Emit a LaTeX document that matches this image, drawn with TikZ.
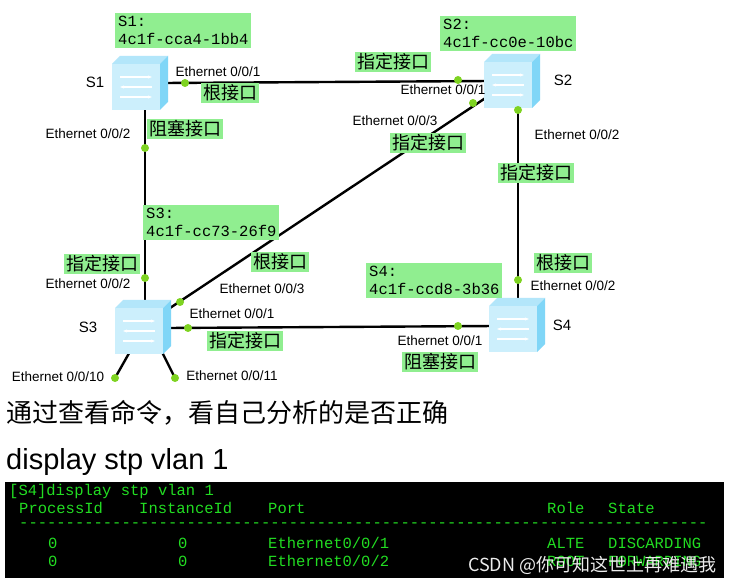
\documentclass[tikz,border=0pt]{standalone}
\usepackage{fontspec}
\setmainfont{Liberation Sans}
\newfontfamily\cjk{Noto Sans CJK SC}
\newfontfamily\mono{Liberation Mono}
\usetikzlibrary{arrows.meta}
\definecolor{lbl}{HTML}{90EE90}
\definecolor{dotg}{HTML}{7ED321}
\definecolor{term}{HTML}{22DD22}
\tikzset{
 eth/.style={font=\fontsize{13.5}{14}\selectfont,inner sep=0pt},
 cn/.style={fill=lbl,font=\cjk\fontsize{18}{19}\selectfont,inner sep=2pt},
 mac/.style={fill=lbl,font=\mono\fontsize{15.5}{18}\selectfont,align=left,inner sep=3pt,anchor=north west},
 nm/.style={font=\fontsize{15}{16}\selectfont},
 lnk/.style={line width=2.4pt},
 dot/.style={circle,fill=dotg,inner sep=0pt,minimum size=8pt},
 tt/.style={font=\mono\fontsize{15.5}{16}\selectfont,text=term,anchor=west,inner sep=0pt},
}
\newcommand{\swicon}[2]{%
 \begin{scope}[shift={#1}]
  \fill[cyan!30] (-28,-18) -- (-20,-26) -- (28,-26) -- (20,-18) -- cycle;
  \fill[cyan!50] (20,-18) -- (28,-26) -- (28,20) -- (20,28) -- cycle;
  \fill[cyan!20] (-28,-18) rectangle (20,28);
  \draw[white,line width=1.4pt,-{Stealth[length=4pt]}] (-20,-5) -- (12,-5);
  \draw[white,line width=1.4pt,-{Stealth[length=4pt]}] (12,5) -- (-20,5);
  \draw[white,line width=1.4pt,-{Stealth[length=4pt]}] (-20,15) -- (12,15);
 \end{scope}
 \coordinate (#2) at #1;}
\begin{document}
\begin{tikzpicture}[x=1pt,y=-1pt]
\useasboundingbox (0,0) rectangle (755,585);
\fill[white] (0,0) rectangle (755,585);
\coordinate (d1) at (185,83); \coordinate (d2) at (458,80);
\coordinate (d3) at (145,148); \coordinate (d4) at (145,278);
\coordinate (d5) at (518,110); \coordinate (d6) at (518,280);
\coordinate (d7) at (473,103); \coordinate (d8) at (180,302);
\coordinate (d9) at (188,328); \coordinate (d10) at (458,326);
\coordinate (d11) at (115,378); \coordinate (d12) at (175,378);
\draw[lnk] (165,83) -- (490,81);
\draw[lnk] (145,105) -- (145,305);
\draw[lnk] (518,100) -- (518,305);
\draw[lnk] (490,95) -- (170,308);
\draw[lnk] (168,328) -- (495,326);
\draw[lnk] (d11) -- (132,348);
\draw[lnk] (d12) -- (160,348);
\swicon{(140,82)}{s1}
\swicon{(512,80)}{s2}
\swicon{(143,326)}{s3}
\swicon{(517,324)}{s4}
\foreach \d in {d1,d2,d3,d4,d5,d6,d7,d8,d9,d10,d11,d12} \node[dot] at (\d) {};
\node[nm] (n1) at (95,82) {S1};
\node[nm] (n2) at (563,80) {S2};
\node[nm] (n3) at (88,327) {S3};
\node[nm] (n4) at (562,325) {S4};
\node[mac] (m1) at (115,13) {S1:\\4c1f-cca4-1bb4};
\node[mac] (m2) at (440,16) {S2:\\4c1f-cc0e-10bc};
\node[mac] (m3) at (143,205) {S3:\\4c1f-cc73-26f9};
\node[mac] (m4) at (366,263) {S4:\\4c1f-ccd8-3b36};
\node[eth] (e1) at (218,72) {Ethernet 0/0/1};
\node[eth] (e2) at (443,90) {Ethernet 0/0/1};
\node[eth] (e3) at (395,121) {Ethernet 0/0/3};
\node[eth] (e4) at (577,135) {Ethernet 0/0/2};
\node[eth] (e5) at (88,134) {Ethernet 0/0/2};
\node[eth] (e6) at (88,284) {Ethernet 0/0/2};
\node[eth] (e7) at (262,289) {Ethernet 0/0/3};
\node[eth] (e8) at (232,314) {Ethernet 0/0/1};
\node[eth] (e9) at (573,286) {Ethernet 0/0/2};
\node[eth] (e10) at (440,341) {Ethernet 0/0/1};
\node[eth] (e11) at (58,377) {Ethernet 0/0/10};
\node[eth] (e12) at (232,376) {Ethernet 0/0/11};
\node[cn] (r1) at (230,93) {根接口};
\node[cn] (r2) at (185,129) {阻塞接口};
\node[cn] (r3) at (393,62) {指定接口};
\node[cn] (r4) at (428,143) {指定接口};
\node[cn] (r5) at (536,173) {指定接口};
\node[cn] (r6) at (102,264) {指定接口};
\node[cn] (r7) at (280,262) {根接口};
\node[cn] (r8) at (563,263) {根接口};
\node[cn] (r9) at (245,341) {指定接口};
\node[cn] (r10) at (440,362) {阻塞接口};
\node[anchor=west,font=\cjk\fontsize{26}{28}\selectfont,inner sep=0pt] (t1) at (6,413) {通过查看命令，看自己分析的是否正确};
\node[anchor=west,font=\fontsize{29}{31}\selectfont,inner sep=0pt] (t2) at (6,462) {display stp vlan 1};
\fill[black] (5,482) rectangle (724,578);
\node[tt] (l1) at (9,491) {[S4]display stp vlan 1};
\node[tt] (h1) at (19,508) {ProcessId};
\node[tt] (h2) at (139,508) {InstanceId};
\node[tt] (h3) at (268,508) {Port};
\node[tt] (h4) at (547,508) {Role};
\node[tt] (h5) at (608,508) {State};
\node[tt] (dash) at (19,525) {--------------------------------------------------------------------------};
\node[tt] (a1) at (48,543) {0};
\node[tt] (a2) at (178,543) {0};
\node[tt] (a3) at (268,543) {Ethernet0/0/1};
\node[tt] (a4) at (547,543) {ALTE};
\node[tt] (a5) at (608,543) {DISCARDING};
\node[tt] (b1) at (48,561) {0};
\node[tt] (b2) at (178,561) {0};
\node[tt] (b3) at (268,561) {Ethernet0/0/2};
\node[tt] (b4) at (547,561) {ROOT};
\node[tt] (b5) at (608,561) {FORWARDING};
\node[anchor=west,inner sep=0pt,text=white!85!gray,font=\cjk\fontsize{18}{19}\selectfont] (wm) at (468,565) {CSDN @你可知这世上再难遇我};
\end{tikzpicture}
\end{document}
